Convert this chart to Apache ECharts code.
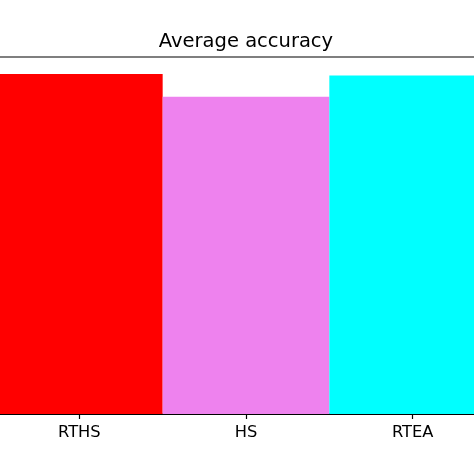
<!DOCTYPE html>
<html>
<head>
<meta charset="utf-8">
<script src="https://cdn.jsdelivr.net/npm/echarts@6/dist/echarts.min.js"></script>
<style>
html,body{margin:0;padding:0;background:#fff;width:474px;height:474px;overflow:hidden;position:relative;}
#c{position:absolute;left:-4px;top:0;width:500px;height:474px;}
</style>
</head>
<body>
<div id="c"></div>
<script>
const categories = ['RTHS', 'HS', 'RTEA'];
const values = [90.0, 84.0, 89.6];
const colors = ['#ff0000', '#ee82ee', '#00ffff'];
const yMax = 94.5;

const chart = echarts.init(document.getElementById('c'), null, {renderer: 'canvas'});
chart.setOption({
  animation: false,
  backgroundColor: '#ffffff',
  title: {
    text: 'Average accuracy',
    left: 'center',
    top: 27,
    textStyle: {fontFamily: 'DejaVu Sans', fontSize: 19.5, fontWeight: 'normal', color: '#000'}
  },
  grid: {
    left: 0, right: 0, top: 57, bottom: 60,
    show: true, borderColor: '#000', borderWidth: 1.2, backgroundColor: 'transparent'
  },
  xAxis: {
    type: 'category',
    data: categories,
    boundaryGap: true,
    z: 10,
    axisLine: {show: true, lineStyle: {color: '#000', width: 1.2}},
    axisTick: {show: true, alignWithLabel: true, length: 5, lineStyle: {color: '#000', width: 1.2}},
    axisLabel: {fontFamily: 'DejaVu Sans', fontSize: 16.3, color: '#000', margin: 11}
  },
  yAxis: {
    type: 'value',
    min: 0,
    max: yMax,
    show: false,
    splitLine: {show: false}
  },
  series: [{
    type: 'bar',
    data: values.map((v, i) => ({value: v, itemStyle: {color: colors[i]}})),
    barCategoryGap: '0%',
    barWidth: '100%'
  }]
});
</script>
</body>
</html>
